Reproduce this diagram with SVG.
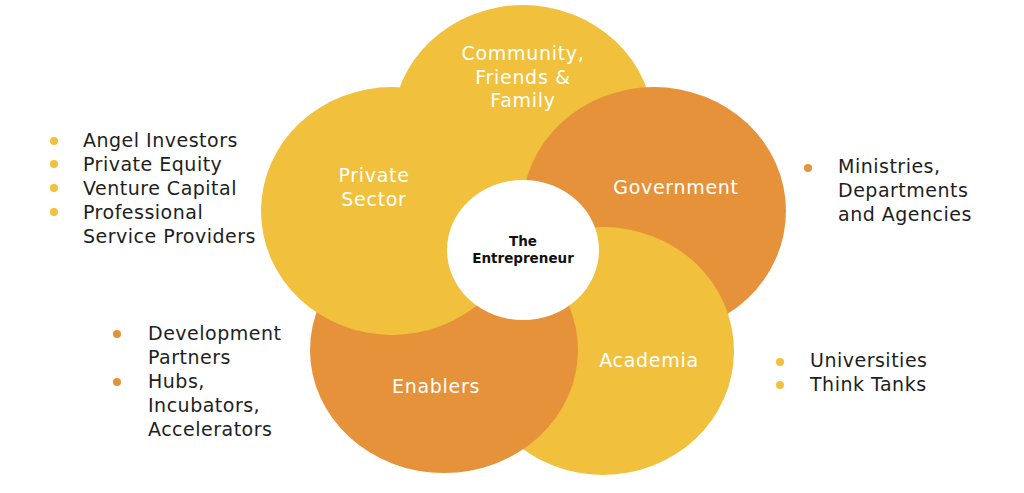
<svg xmlns="http://www.w3.org/2000/svg" width="1024" height="493" viewBox="0 0 1024 493">
<style>
.y{fill:#F1C13D}
.o{fill:#E6923A}
.lbl{font-family:"DejaVu Sans","Open Sans",sans-serif;font-size:19px;letter-spacing:0.7px;fill:#ffffff;text-anchor:middle}
.lst{font-family:"DejaVu Sans","Open Sans",sans-serif;font-size:19px;letter-spacing:0.5px;fill:#1e1e1e}
.ctr{font-family:"DejaVu Sans","Open Sans",sans-serif;font-size:13.5px;font-weight:bold;fill:#111;text-anchor:middle}
</style>
<rect width="1024" height="493" fill="#ffffff"/>
<g id="community">
<ellipse class="y" cx="523" cy="129" rx="131" ry="124"/>
</g>
<g id="government">
<ellipse class="o" cx="654" cy="211" rx="132" ry="124"/>
</g>
<g id="academia">
<ellipse class="y" cx="603" cy="351" rx="131" ry="124"/>
</g>
<g id="enablers">
<ellipse class="o" cx="444" cy="350" rx="134" ry="123"/>
</g>
<g id="private-sector">
<ellipse class="y" cx="392" cy="211" rx="131" ry="124"/>
</g>
<g id="entrepreneur">
<ellipse fill="#ffffff" cx="523" cy="250" rx="76" ry="70"/>
<text class="ctr" x="523" y="246">The</text>
<text class="ctr" x="523" y="263">Entrepreneur</text>
</g>
<g id="labels">
<text class="lbl" x="523" y="60">Community,</text>
<text class="lbl" x="523" y="84">Friends &amp;</text>
<text class="lbl" x="523" y="107">Family</text>
<text class="lbl" x="374" y="182">Private</text>
<text class="lbl" x="374" y="206">Sector</text>
<text class="lbl" x="676" y="194">Government</text>
<text class="lbl" x="649" y="367">Academia</text>
<text class="lbl" x="436" y="393">Enablers</text>
</g>
<g id="list-private">
<circle class="y" cx="54" cy="141" r="4"/>
<circle class="y" cx="54" cy="164" r="4"/>
<circle class="y" cx="54" cy="188" r="4"/>
<circle class="y" cx="54" cy="212" r="4"/>
<text class="lst" x="83" y="147">Angel Investors</text>
<text class="lst" x="83" y="171">Private Equity</text>
<text class="lst" x="83" y="195">Venture Capital</text>
<text class="lst" x="83" y="219">Professional</text>
<text class="lst" x="83" y="243">Service Providers</text>
</g>
<g id="list-enablers">
<circle class="o" cx="117" cy="334" r="4"/>
<circle class="o" cx="117" cy="382" r="4"/>
<text class="lst" x="148" y="340">Development</text>
<text class="lst" x="148" y="364">Partners</text>
<text class="lst" x="148" y="388">Hubs,</text>
<text class="lst" x="148" y="412">Incubators,</text>
<text class="lst" x="148" y="436">Accelerators</text>
</g>
<g id="list-government">
<circle class="o" cx="808" cy="168" r="4"/>
<text class="lst" x="838" y="173">Ministries,</text>
<text class="lst" x="838" y="197">Departments</text>
<text class="lst" x="838" y="221">and Agencies</text>
</g>
<g id="list-academia">
<circle class="y" cx="780" cy="362" r="4"/>
<circle class="y" cx="780" cy="385" r="4"/>
<text class="lst" x="810" y="367">Universities</text>
<text class="lst" x="810" y="391">Think Tanks</text>
</g>
</svg>
